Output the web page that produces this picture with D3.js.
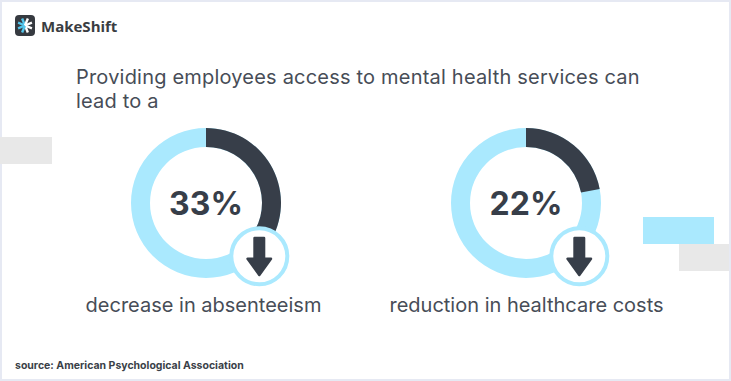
<!DOCTYPE html>
<html><head><meta charset="utf-8">
<script src="https://cdn.jsdelivr.net/npm/d3@7/dist/d3.min.js"></script>
<style>html,body{margin:0;padding:0;background:#fff}svg{display:block}</style>
</head><body><svg id="c" width="731" height="381"></svg>
<script>
const brand = "MakeShift";
const titleLines = ["Providing employees access to mental health services can", "lead to a"];
const percents = [33, 22];
const captions = ["decrease in absenteeism", "reduction in healthcare costs"];
const source = "source: American Psychological Association";
const DARK = "#373e49", LIGHT = "#aae9fe", GREY = "#e8e8e8", BORDER = "#e6e9f3";

const svg = d3.select("#c");
const W = 731, H = 381;
svg.append("rect").attr("width", W).attr("height", H).attr("fill", BORDER);
svg.append("rect").attr("x", 2).attr("y", 2).attr("width", W - 4).attr("height", H - 4).attr("fill", "#fff");
const deco = [[0,137,52,27,GREY],[643,217,71,27,LIGHT],[679,244,50,27,GREY]];
svg.selectAll("rect.deco").data(deco).join("rect").attr("class","deco")
  .attr("x",d=>d[0]).attr("y",d=>d[1]).attr("width",d=>d[2]).attr("height",d=>d[3]).attr("fill",d=>d[4]);

const logo = svg.append("g").attr("transform","translate(15,15)");
logo.append("rect").attr("width",20).attr("height",21).attr("rx",4).attr("fill","#363a40");
const spokes = d3.range(8);
logo.selectAll("line").data(spokes).join("line")
  .attr("x1",10).attr("y1",10.5)
  .attr("x2",d=>10+7.5*Math.cos(d*Math.PI/4+Math.PI/8))
  .attr("y2",d=>10.5+7.5*Math.sin(d*Math.PI/4+Math.PI/8))
  .attr("stroke",d=>(d>=2&&d<=5)?"#53c6ec":"#ffffff").attr("stroke-width",2.4);
svg.append("text").attr("x",41).attr("y",31.5).text(brand)
  .attr("font-family","'Open Sans'").attr("font-weight",700).attr("font-size",15).attr("fill","#3a3d42");

svg.selectAll("text.t").data(titleLines).join("text").attr("class","t")
  .attr("x",76).attr("y",(d,i)=>84+i*23.5).text(d=>d)
  .attr("font-family","Inter").attr("font-size",20).attr("letter-spacing",0.2).attr("fill","#474d57");

const centers = d3.scalePoint().domain(percents).range([206,526]);
const angle = d3.scaleLinear().domain([0,100]).range([0,2*Math.PI]);
const arc = d3.arc().innerRadius(56).outerRadius(75);
percents.forEach((p,i)=>{
  const cx = centers(p), cy = 203;
  const g = svg.append("g").attr("transform",`translate(${cx},${cy})`);
  g.append("path").attr("d",arc({startAngle:0,endAngle:2*Math.PI})).attr("fill",LIGHT);
  g.append("path").attr("d",arc({startAngle:0,endAngle:angle(p)})).attr("fill",DARK);
  g.append("text").attr("y",12).attr("text-anchor","middle").text(p+"%")
    .attr("font-family","Inter").attr("font-weight",700).attr("font-size",32).attr("fill",DARK);
  const b = g.append("g").attr("transform","translate(53.3,53.3)");
  b.append("circle").attr("r",28).attr("fill","#fff").attr("stroke",LIGHT).attr("stroke-width",4);
  b.append("path").attr("d","M-4.75,-18.4 H4.75 V2.5 H11.7 L0,18.6 L-11.7,2.5 H-4.75 Z")
    .attr("fill",DARK).attr("stroke",DARK).attr("stroke-width",2.5).attr("stroke-linejoin","round");
  svg.append("text").attr("x",[203.5,526.5][i]).attr("y",312).attr("text-anchor","middle").text(captions[i])
    .attr("font-family","Inter").attr("font-size",20).attr("fill","#474d57");
});

svg.append("text").attr("x",15).attr("y",369).text(source)
  .attr("font-family","Inter").attr("font-weight",700).attr("font-size",10.5).attr("fill","#3a3f48");
</script></body></html>
